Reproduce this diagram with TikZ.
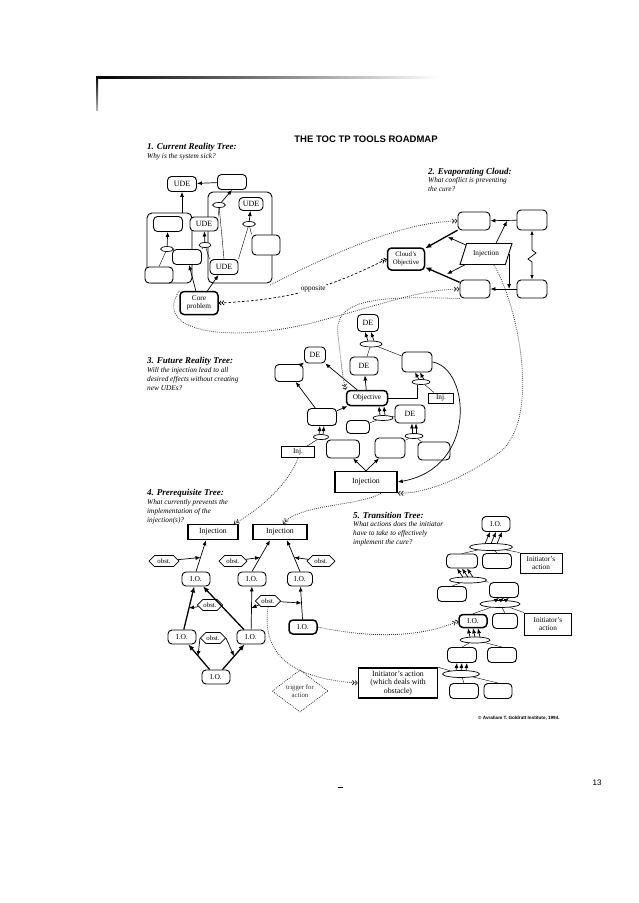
\documentclass[tikz,border=0pt]{standalone}
\usepackage{fontspec}
\setmainfont{Liberation Serif}
\newfontfamily\tocsans{Liberation Sans}
\usetikzlibrary{arrows.meta,shapes.geometric,shapes.symbols,calc}
\begin{document}
\begin{tikzpicture}[x=1pt,y=-1pt,
  bx/.style={draw, fill=white, rounded corners=4pt, line width=0.9pt, minimum width=29pt, minimum height=15pt, inner sep=0.5pt, align=center, font=\fontsize{8}{8.5}\selectfont},
  io/.style={bx, minimum width=28pt, minimum height=14pt, font=\fontsize{7.5}{8}\selectfont},
  rx/.style={draw, fill=white, line width=0.9pt, minimum width=25pt, minimum height=10pt, inner sep=0.5pt, align=center, font=\fontsize{7.3}{8.3}\selectfont},
  tk/.style={line width=1.5pt},
  andn/.style={draw, fill=white, ellipse, line width=0.7pt, inner sep=0pt},
  hexn/.style={draw, fill=white, signal, signal to=east and west, line width=0.7pt, minimum width=30pt, minimum height=11pt, inner sep=0.5pt, font=\fontsize{6.8}{7}\selectfont},
  arr/.style={arrows={-Latex[length=5pt,width=4pt]}, line width=0.7pt},
  tarr/.style={arrows={-Latex[length=6pt,width=5pt]}, line width=1.3pt},
  dotc/.style={line width=0.8pt, dash pattern=on 0.8pt off 1.2pt, black!80},
  dtip/.style={arrows={-Straight Barb[length=2pt,width=4.5pt] Straight Barb[length=2pt,width=4.5pt]}},
  dtipb/.style={arrows={Straight Barb[length=2pt,width=4.5pt] Straight Barb[length=2pt,width=4.5pt]-Straight Barb[length=2pt,width=4.5pt] Straight Barb[length=2pt,width=4.5pt]}},
  hd/.style={anchor=west, inner sep=0pt, font=\bfseries\itshape\fontsize{9}{10}\selectfont},
  qd/.style={anchor=north west, inner sep=0pt, align=left, font=\itshape\fontsize{7.3}{9}\selectfont},
]
\useasboundingbox (0,0) rectangle (638,903);
\fill[white] (0,0) rectangle (638,903);

% ---- scan marks of the page
\shade[left color=black, right color=white] (96,76) rectangle (440,78.5);
\shade[top color=black, bottom color=black!30] (96,76) rectangle (98,110);
\node[font=\tocsans\fontsize{8}{9}\selectfont] (pg) at (597,783) {13};
\node[inner sep=0pt] (dsh) at (340,787) {\rule{5pt}{0.6pt}};

% ---- title and headings
\node[font=\tocsans\bfseries\fontsize{9.5}{10}\selectfont] (title) at (366,139) {THE TOC TP TOOLS ROADMAP};
\node[hd] (h1) at (147,147) {1. Current Reality Tree:};
\node[qd] (q1) at (147,153) {Why is the system sick?};
\node[hd] (h2) at (428,172) {2. Evaporating Cloud:};
\node[qd] (q2) at (428,177) {What conflict is preventing\\the cure?};
\node[hd] (h3) at (147,361) {3. Future Reality Tree:};
\node[qd] (q3) at (147,367) {Will the injection lead to all\\desired effects without creating\\new UDEs?};
\node[hd] (h4) at (147,493) {4. Prerequisite Tree:};
\node[qd] (q4) at (147,499) {What currently prevents the\\implementation of the\\injection(s)?};
\node[hd] (h5) at (353,515) {5. Transition Tree:};
\node[qd] (q5) at (353,521) {What actions does the initiator\\have to take to effectively\\implement the cure?};
\node[font=\tocsans\bfseries\fontsize{4.6}{5}\selectfont, anchor=west, inner sep=0pt] (copy) at (478,718) {© Avraham T. Goldratt Institute, 1994.};

% ================= 1. Current Reality Tree
\draw[line width=0.9pt, rounded corners=5pt] (208,192) rectangle (272,283);
\draw[line width=0.9pt, rounded corners=5pt] (147,213) rectangle (192,283);
\coordinate (encL) at (182,213);
\coordinate (c1s) at (270,285);
\node[bx] (u1) at (182,184) {UDE};
\node[bx] (b1) at (232,182) {};
\node[bx, minimum width=24pt, minimum height=13pt] (u2) at (251,204) {UDE};
\node[bx] (b2) at (168,224) {};
\node[bx, minimum width=28pt, minimum height=14pt] (u3) at (204,224) {UDE};
\node[bx, minimum width=28pt, minimum height=20pt] (b3) at (266,245) {};
\node[bx, minimum width=28pt, minimum height=16pt] (b4) at (159,275) {};
\node[bx] (b5) at (187,257) {};
\node[bx, minimum width=28pt] (u4) at (224,267) {UDE};
\node[bx, tk, minimum width=38pt, minimum height=23pt, font=\fontsize{7.3}{8}\selectfont] (cp) at (199,303) {Core\\problem};
\node[andn, minimum width=13pt, minimum height=5pt] (e1) at (167,249) {};
\node[andn, minimum width=12pt, minimum height=5pt] (e2) at (205,245) {};
\node[andn, minimum width=13pt, minimum height=5pt] (e3) at (219,205) {};
\node[andn, minimum width=13pt, minimum height=5pt] (e4) at (249,224) {};
\draw[arr] (b1) -- (u1);
\draw[arr] (encL) -- (u1);
\draw (b4.north) -- (e1);
\draw (b5.north west) -- (e1);
\draw[arr] (e1) -- (b2);
\draw (b5.north east) -- (e2);
\draw (u4.north west) -- (e2);
\draw[arr] (e2) -- (u3);
\draw (u3.north east) -- (e3);
\draw (u4.north) -- (e3);
\draw[arr] (e3) -- (b1.south);
\draw (u4.north east) -- (e4);
\draw (b3.north west) -- (e4);
\draw[arr] (e4) -- (u2);
\draw[arr] (cp) -- (b5);
\draw[arr] (cp) -- (u4);

% ================= 2. Evaporating Cloud
\node[bx, tk, minimum width=37pt, minimum height=22pt, font=\fontsize{6.8}{7.3}\selectfont] (co) at (406,259) {Cloud's\\Objective};
\node[bx, minimum width=32pt, minimum height=18pt] (tb) at (474,221) {};
\node[bx, minimum width=30pt, minimum height=20pt] (tr) at (532,220) {};
\node[bx, minimum width=30pt, minimum height=18pt] (bb) at (475,289) {};
\node[bx, minimum width=30pt, minimum height=18pt] (br) at (532,289) {};
\node[draw, fill=white, line width=0.9pt, trapezium, trapezium left angle=58, trapezium right angle=122, trapezium stretches=true, minimum width=52pt, minimum height=21pt, inner sep=0.5pt, font=\fontsize{7.3}{8}\selectfont] (ci) at (486,254) {Injection};
\coordinate (pA) at (448,237);
\coordinate (pB) at (447,274);
\coordinate (pC) at (507,221);
\draw[tarr] (tb) -- (co);
\draw[tarr] (bb) -- (co);
\draw[arr] (tr) -- (tb);
\draw[arr] (br) -- (bb);
\draw[arrows={Latex[length=4.5pt,width=3.5pt]-Latex[length=4.5pt,width=3.5pt]}, line width=0.7pt] (tr.south) -- (532,250) -- (536,253) -- (528,259) -- (532,262) -- (br.north);
\draw[arr] (ci) -- (pA);
\draw[arr] (ci) -- (pB);
\draw[arr] ($(ci.north)+(10,0)$) -- (pC);
\draw[arr] (ci.east) -- (ci.east |- br.west);

% ================= 3. Future Reality Tree
\node[bx, minimum width=21pt, minimum height=17pt] (d1) at (368,323) {DE};
\node[bx, minimum width=21pt, minimum height=16pt] (d2) at (315,355) {DE};
\node[bx, minimum width=28pt, minimum height=17pt] (f1) at (289,373) {};
\node[bx, minimum width=28pt, minimum height=18pt] (d3) at (364,366) {DE};
\node[bx, minimum width=30pt, minimum height=20pt] (f2) at (417,362) {};
\node[bx, tk, minimum width=41pt, minimum height=15pt, font=\fontsize{7.3}{8}\selectfont] (obj) at (367,398) {Objective};
\node[rx] (inj1) at (441,398) {Inj.};
\node[bx, minimum width=29pt, minimum height=17pt] (f3) at (322,417) {};
\node[bx, minimum width=23pt, minimum height=13pt] (f4) at (358,427) {};
\node[bx, minimum width=30pt, minimum height=18pt] (d4) at (410,414) {DE};
\node[rx, minimum width=33pt, minimum height=11pt] (inj2) at (298,452) {Inj.};
\node[bx, minimum width=33pt, minimum height=18pt] (f5) at (343,449) {};
\node[bx, minimum width=30pt, minimum height=20pt] (f6) at (390,448) {};
\node[bx, minimum width=32pt, minimum height=18pt] (f7) at (434,451) {};
\node[rx, tk, minimum width=62pt, minimum height=21pt, font=\fontsize{7.8}{8}\selectfont] (injF) at (366,482) {Injection};
\node[andn, minimum width=22pt, minimum height=6pt] (g1) at (371,344) {};
\node[andn, minimum width=18pt, minimum height=5pt] (g2) at (421,382) {};
\node[andn, minimum width=20pt, minimum height=5pt] (g3) at (383,418) {};
\node[andn, minimum width=15pt, minimum height=5pt] (g4) at (321,437) {};
\node[andn, minimum width=18pt, minimum height=5pt] (g5) at (414,436) {};
\draw[arr] (f1) -- (d2);
\draw[arr] (f3) -- (f1);
\draw[arr] (f3) -- (obj);
\draw[arr] (obj) -- (d2);
\draw[arr] (obj) -- (d3);
\draw (d3) -- (g1);
\draw (f2) -- (g1);
\draw[arr] ($(g1.north)+(-3,0.5)$) -- ($(d1.south)+(-3,0)$);
\draw[arr] ($(g1.north)+(3,0.5)$) -- ($(d1.south)+(3,0)$);
\draw (obj.east) -| ($(g2.south)+(-4,0)$);
\draw ($(inj1.north)+(-7,0)$) -- ($(g2.south)+(4,0)$);
\draw[arr] ($(g2.north)+(-2,0.5)$) -- ($(f2.south)+(-2,0)$);
\draw[arr] ($(g2.north)+(3,0.5)$) -- ($(f2.south)+(3,0)$);
\draw[arr] (f2.east) .. controls (470,368) and (478,468) .. (injF.east);
\draw (f4) -- (g3);
\draw (d4) -- (g3);
\draw[arr] ($(g3.north)+(-3,0.5)$) -- ($(obj.south)+(12,0)$);
\draw[arr] ($(g3.north)+(2,0.5)$) -- ($(obj.south)+(17,0)$);
\draw (inj2) -- (g4);
\draw (f5) -- (g4);
\draw[arr] ($(g4.north)+(-2,0.5)$) -- ($(f3.south)+(-2,0)$);
\draw[arr] ($(g4.north)+(2,0.5)$) -- ($(f3.south)+(2,0)$);
\draw (f6) -- (g5);
\draw (f7) -- (g5);
\draw[arr] ($(g5.north)+(-2,0.5)$) -- ($(d4.south)+(2,0)$);
\draw[arr] ($(g5.north)+(2,0.5)$) -- ($(d4.south)+(6,0)$);
\draw[arr] (injF.north) -- (f5);
\draw[arr] (injF.north) -- (f6);

% ================= 4. Prerequisite Tree
\node[rx, tk, minimum width=50pt, minimum height=15pt, font=\fontsize{7.8}{8}\selectfont] (pi1) at (213,532) {Injection};
\node[rx, tk, minimum width=54pt, minimum height=15pt, font=\fontsize{7.8}{8}\selectfont] (pi2) at (280,532) {Injection};
\node[hexn] (o1) at (164,561) {obst.};
\node[hexn, minimum width=28pt] (o2) at (233,561) {obst.};
\node[hexn, minimum width=28pt] (o3) at (321,561) {obst.};
\node[io] (io1) at (196,579) {I.O.};
\node[io] (io2) at (252,579) {I.O.};
\node[io, minimum width=25pt] (io3) at (300,579) {I.O.};
\node[hexn, minimum width=22pt] (o4) at (210,605) {obst.};
\node[hexn, minimum width=22pt] (o5) at (268,601) {obst.};
\node[io] (io4) at (182,637) {I.O.};
\node[hexn, minimum width=25pt] (o6) at (213,638) {obst.};
\node[io] (io5) at (251,637) {I.O.};
\node[io, tk] (io6) at (303,627) {I.O.};
\node[io] (io7) at (216,677) {I.O.};
\coordinate (t1) at ($(pi1.south)+(-7,0)$);
\coordinate (t2) at ($(pi2.south)+(-10,0)$);
\coordinate (t3) at ($(pi2.south)+(7,0)$);
\coordinate (m1) at ($(io1.north)!0.45!(t1)$);
\coordinate (m2) at ($(io2.north)!0.45!(t2)$);
\coordinate (m3) at ($(io3.north)!0.45!(t3)$);
\coordinate (m4) at ($(io4)!0.5!(io1)$);
\coordinate (m5) at ($(io5)!0.5!(io2)$);
\coordinate (m6) at ($(io6)!0.5!(io3)$);
\coordinate (q6a) at (198,656);
\coordinate (q6b) at (234,656);
\draw[arr] (io1.north) -- (t1);
\draw[arr] (io2.north) -- (t2);
\draw[arr] (io3.north) -- (t3);
\draw[arr] (o1) -- (m1);
\draw[arr] (o2) -- (m2);
\draw[arr] (o3) -- (m3);
\draw[tarr] (io4) -- (io1);
\draw[tarr] (io5) -- (io1);
\draw[arr] (io5) -- (io2);
\draw[arr] (io6) -- (io3);
\draw[arr] (o4) -- (m4);
\draw[arr] (o5) -- (m5);
\draw[arr] (o5) -- (m6);
\draw[tarr] (io7) -- (io4);
\draw[tarr] (io7) -- (io5);
\draw[arr] (o6.west) -- (q6a);
\draw[arr] (o6.east) -- (q6b);
\node[draw, diamond, dotc, fill=white, minimum width=56pt, minimum height=42pt, inner sep=0pt, align=center, font=\fontsize{6.8}{7.5}\selectfont] (trig) at (300,691) {trigger for\\action};

% ================= 5. Transition Tree
\node[io, minimum height=15pt] (t0) at (496,524) {I.O.};
\node[bx, minimum width=31pt, minimum height=14pt] (s1a) at (462,561) {};
\node[bx, minimum width=29pt, minimum height=15pt] (s1b) at (497,561) {};
\node[rx, minimum width=42pt, minimum height=20pt] (ia1) at (541,563) {Initiator's\\action};
\node[bx] (s2a) at (452,594) {};
\node[bx] (s2b) at (504,590) {};
\node[io, tk, minimum height=13pt] (tio) at (473,621) {I.O.};
\node[bx, minimum width=25pt] (s3b) at (505,621) {};
\node[rx, minimum width=47pt, minimum height=22pt] (ia2) at (548,624) {Initiator's\\action};
\node[bx] (s4a) at (462,655) {};
\node[bx] (s4b) at (502,655) {};
\node[bx] (s5a) at (464,691) {};
\node[bx, minimum width=28pt] (s5b) at (498,691) {};
\node[rx, tk, minimum width=79pt, minimum height=30pt, font=\fontsize{7.8}{8.7}\selectfont] (ia3) at (398,683) {Initiator's action\\(which deals with\\obstacle)};
\node[andn, minimum width=43pt, minimum height=7pt] (k1) at (491,547) {};
\node[andn, minimum width=37pt, minimum height=6pt] (k2) at (468,580) {};
\node[andn, minimum width=40pt, minimum height=7pt] (k3) at (500,604) {};
\node[andn, minimum width=30pt, minimum height=6pt] (k4) at (475,640) {};
\node[andn, minimum width=37pt, minimum height=7pt] (k5) at (461,674) {};
\draw (s1a.north) -- (k1);
\draw (s1b.north) -- (k1);
\draw (ia1.north west) -- (k1);
\foreach \o in {-6,0,6} \draw[arr] ($(k1.north)+(\o,0.5)$) -- ($(t0.south)+(\o,0)$);
\draw (s2a.north) -- (k2);
\draw (s2b.north west) -- (k2);
\foreach \o in {-5,0,5} \draw[arr] ($(k2.north)+(\o,0.5)$) -- ($(s1a.south)+(\o,0)$);
\draw (tio.north) -- (k3);
\draw (s3b.north) -- (k3);
\draw (ia2.north west) -- (k3);
\foreach \o in {-5,0,5} \draw[arr] ($(k3.north)+(\o,0.5)$) -- ($(s2b.south)+(\o,0)$);
\draw (s4a.north) -- (k4);
\draw (s4b.north) -- (k4);
\foreach \o in {-5,0,5} \draw[arr] ($(k4.north)+(\o,0.5)$) -- ($(tio.south)+(\o,0)$);
\draw (s5a.north) -- (k5);
\draw (s5b.north) -- (k5);
\draw (ia3.north east) -- (k5);
\foreach \o in {-5,0,5} \draw[arr] ($(k5.north)+(\o,0.5)$) -- ($(s4a.south)+(\o,0)$);

% ================= dotted links between the trees
\draw[dotc, dtip] (c1s) .. controls (330,255) and (400,222) .. (tb.west);
\draw[dash pattern=on 2.5pt off 2pt, line width=0.7pt, dtipb] (cp.east) to[bend right=12] node[pos=0.55, fill=white, inner sep=1pt, font=\fontsize{7.3}{8}\selectfont] (opp) {opposite} (co.west);
\draw[dotc, dtip] (cp.north west) .. controls (150,335) and (240,345) .. (330,318) .. controls (390,302) and (420,290) .. (bb.west);
\draw[dotc, dtip] (bb.south west) .. controls (380,296) and (333,298) .. (338,335) .. controls (341,360) and (342,376) .. (obj.north west);
\draw[dotc, dtip] ($(ci.south)+(8,0)$) .. controls (520,310) and (540,420) .. (500,452) .. controls (460,482) and (420,494) .. (injF.south east);
\draw[dotc, dtip] (inj2.south) .. controls (290,482) and (260,510) .. ($(pi1.north east)+(-5,0)$);
\draw[dotc, dtip] ($(injF.south)+(15,0)$) .. controls (360,506) and (300,504) .. ($(pi2.north)+(3,0)$);
\draw[dotc, dtip] (o5.south) .. controls (262,650) and (285,678) .. (ia3.west);
\draw[dotc, dtip] (io6.east) .. controls (370,638) and (420,638) .. (tio.west);
\end{tikzpicture}
\end{document}
